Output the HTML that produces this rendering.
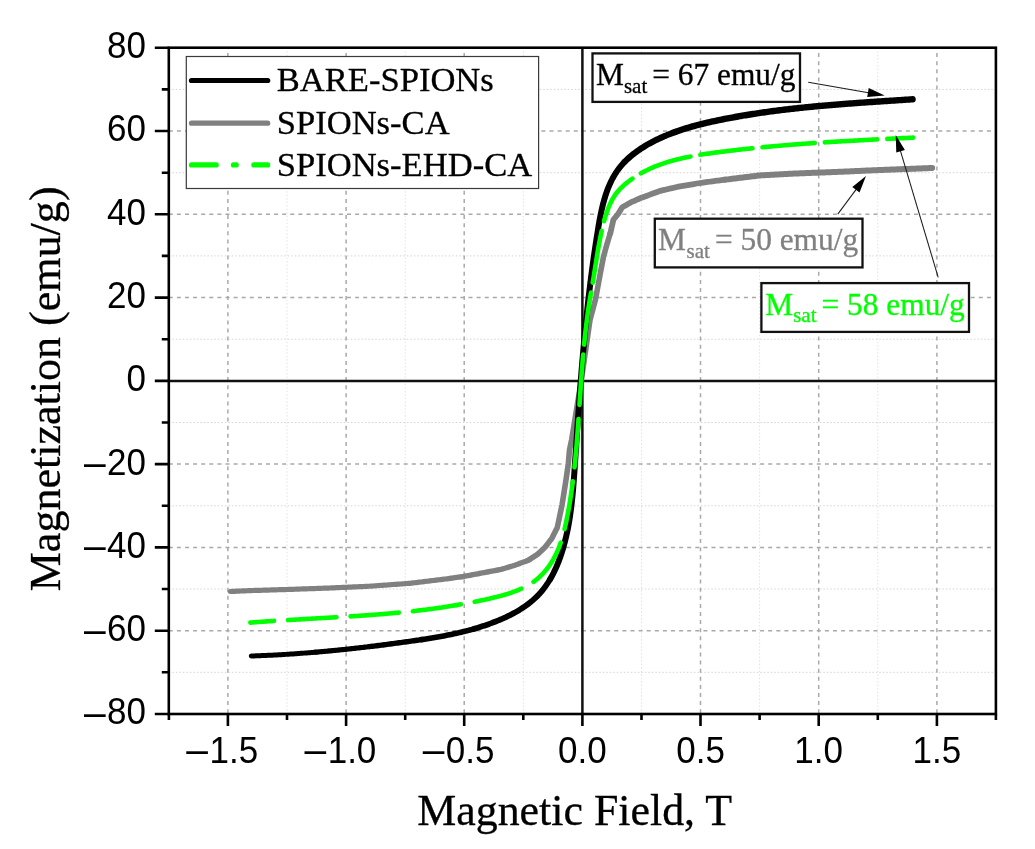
<!DOCTYPE html>
<html><head><meta charset="utf-8"><style>
html,body{margin:0;padding:0;background:#fff;}
svg{display:block;}
.sans{font-family:"Liberation Sans",Arial,sans-serif;}
.serif{font-family:"Liberation Serif","Times New Roman",serif;stroke-width:0.3px;}
</style></head><body>
<svg width="1035" height="849" viewBox="0 0 1035 849">
<rect width="1035" height="849" fill="#fff"/>
<path d="M287.0 47.7V714.0M405.2 47.7V714.0M523.3 47.7V714.0M641.5 47.7V714.0M759.6 47.7V714.0M877.8 47.7V714.0" stroke="#e2e2e2" stroke-width="1" stroke-dasharray="1.5 2" fill="none"/>
<path d="M168.8 672.3H996.0M168.8 589.0H996.0M168.8 505.8H996.0M168.8 422.5H996.0M168.8 339.2H996.0M168.8 255.9H996.0M168.8 172.7H996.0M168.8 89.4H996.0" stroke="#d4d4d4" stroke-width="1" stroke-dasharray="1.5 2" fill="none"/>
<path d="M227.9 47.7V714.0M346.1 47.7V714.0M464.2 47.7V714.0M700.5 47.7V714.0M818.7 47.7V714.0M936.9 47.7V714.0" stroke="#a9a9a9" stroke-width="1.5" stroke-dasharray="4 4.1" stroke-dashoffset="2.7" fill="none"/>
<path d="M168.8 630.7H996.0M168.8 547.4H996.0M168.8 464.1H996.0M168.8 297.6H996.0M168.8 214.3H996.0M168.8 131.0H996.0" stroke="#a9a9a9" stroke-width="1.5" stroke-dasharray="4 4.1" fill="none"/>
<path d="M168.8 380.9H996.0M582.4 47.7V714.0" stroke="#111" stroke-width="2.5" fill="none"/>
<path d="M230.20 591.50 L231.72 591.43 L233.25 591.36 L234.77 591.29 L236.29 591.22 L237.82 591.15 L239.34 591.08 L240.86 591.02 L242.38 590.95 L243.91 590.88 L245.43 590.81 L246.95 590.74 L248.48 590.67 L250.00 590.60 L251.54 590.55 L253.08 590.51 L254.62 590.46 L256.15 590.42 L257.69 590.37 L259.23 590.32 L260.77 590.28 L262.31 590.23 L263.85 590.18 L265.38 590.14 L266.92 590.09 L268.46 590.05 L270.00 590.00 L271.54 589.95 L273.08 589.91 L274.62 589.86 L276.15 589.82 L277.69 589.77 L279.23 589.72 L280.77 589.68 L282.31 589.63 L283.85 589.58 L285.38 589.54 L286.92 589.49 L288.46 589.45 L290.00 589.40 L291.54 589.35 L293.08 589.29 L294.62 589.24 L296.15 589.18 L297.69 589.13 L299.23 589.08 L300.77 589.02 L302.31 588.97 L303.85 588.92 L305.38 588.86 L306.92 588.81 L308.46 588.75 L310.00 588.70 L311.54 588.65 L313.08 588.59 L314.62 588.54 L316.15 588.48 L317.69 588.43 L319.23 588.38 L320.77 588.32 L322.31 588.27 L323.85 588.22 L325.38 588.16 L326.92 588.11 L328.46 588.05 L330.00 588.00 L331.54 587.93 L333.08 587.86 L334.62 587.79 L336.15 587.72 L337.69 587.65 L339.23 587.58 L340.77 587.52 L342.31 587.45 L343.85 587.38 L345.38 587.31 L346.92 587.24 L348.46 587.17 L350.00 587.10 L351.54 587.03 L353.08 586.96 L354.62 586.89 L356.15 586.82 L357.69 586.75 L359.23 586.68 L360.77 586.62 L362.31 586.55 L363.85 586.48 L365.38 586.41 L366.92 586.34 L368.46 586.27 L370.00 586.20 L371.54 586.09 L373.08 585.98 L374.62 585.87 L376.15 585.75 L377.69 585.64 L379.23 585.53 L380.77 585.42 L382.31 585.31 L383.85 585.20 L385.38 585.08 L386.92 584.97 L388.46 584.86 L390.00 584.75 L391.54 584.64 L393.08 584.53 L394.62 584.42 L396.15 584.30 L397.69 584.19 L399.23 584.08 L400.77 583.97 L402.31 583.86 L403.85 583.75 L405.38 583.63 L406.92 583.52 L408.46 583.41 L410.00 583.30 L411.54 583.11 L413.08 582.92 L414.62 582.74 L416.17 582.55 L417.71 582.36 L419.25 582.17 L420.79 581.99 L422.33 581.80 L423.88 581.61 L425.42 581.42 L426.96 581.24 L428.50 581.05 L430.04 580.86 L431.58 580.67 L433.12 580.49 L434.67 580.30 L436.21 580.11 L437.75 579.92 L439.29 579.74 L440.83 579.55 L442.38 579.36 L443.92 579.17 L445.46 578.99 L447.00 578.80 L448.63 578.57 L450.26 578.34" fill="none" stroke="#808080" stroke-width="5.2" stroke-linejoin="round" stroke-linecap="round"/>
<path d="M450.26 578.34 L451.89 578.11 L453.52 577.88 L455.15 577.65 L456.78 577.42 L458.41 577.19 L460.04 576.96 L461.67 576.73 L463.30 576.50 L464.90 576.20 L466.50 575.90 L468.10 575.60 L469.70 575.30 L471.30 575.00 L472.90 574.70 L474.50 574.40 L476.10 574.10 L477.70 573.80 L479.30 573.50 L480.90 573.20 L482.46 572.91 L484.02 572.62 L485.58 572.32 L487.15 572.03 L488.71 571.74 L490.27 571.45 L491.83 571.15 L493.39 570.86 L494.95 570.57 L496.52 570.28 L498.08 569.98 L499.64 569.69 L501.20 569.40 L502.70 568.94 L504.20 568.49 L505.70 568.03 L507.20 567.58 L508.70 567.12 L510.20 566.67 L511.70 566.21 L513.20 565.76 L514.70 565.30 L516.21 564.74 L517.72 564.19 L519.23 563.63 L520.74 563.08 L522.26 562.52 L523.77 561.97 L525.28 561.41 L526.79 560.86 L528.30 560.30 L529.64 559.43" fill="none" stroke="#808080" stroke-width="5.4" stroke-linejoin="round" stroke-linecap="round"/>
<path d="M529.64 559.43 L530.99 558.56 L532.33 557.69 L533.67 556.81 L535.01 555.94 L536.36 555.07 L537.70 554.20 L538.85 553.12 L540.00 552.03 L541.15 550.95 L542.30 549.87 L543.45 548.78 L544.60 547.70 L545.60 546.43 L546.60 545.16 L547.60 543.89 L548.60 542.61 L549.60 541.34 L550.60 540.07 L551.60 538.80 L552.31 537.39 L553.02 535.97 L553.74 534.56 L554.45 533.15 L555.16 531.74 L555.88 530.33 L556.59 528.91 L557.30 527.50 L557.61 526.01 L557.93 524.53 L558.24 523.04 L558.55 521.55 L558.87 520.07 L559.18 518.58 L559.49 517.09 L559.81 515.61 L560.12 514.12 L560.43 512.63 L560.75 511.15 L561.06 509.66 L561.37 508.17 L561.69 506.69 L562.00 505.20 L562.25 503.64 L562.49 502.08 L562.74 500.52 L562.99 498.96 L563.23 497.40 L563.48 495.84 L563.73 494.28 L563.97 492.72 L564.22 491.16 L564.47 489.60 L564.71 488.04 L564.96 486.48 L565.21 484.92 L565.45 483.36 L565.70 481.80 L565.92 480.30 L566.13 478.80 L566.35 477.30 L566.57 475.80 L566.78 474.30 L567.00 472.80 L567.22 471.30 L567.43 469.80 L567.65 468.30 L567.87 466.80 L568.08 465.30 L568.30 463.80 L568.43 462.27 L568.57 460.73 L568.70 459.20 L568.83 457.67 L568.97 456.13 L569.10 454.60 L569.23 453.07 L569.37 451.53 L569.50 450.00 L569.85 448.33 L570.20 446.67 L570.55 445.00 L570.90 443.33 L571.25 441.67 L571.60 440.00 L571.85 438.49 L572.09 436.97 L572.34 435.46 L572.58 433.95 L572.83 432.44 L573.08 430.92 L573.32 429.41 L573.57 427.90 L573.82 426.38 L574.06 424.87 L574.31 423.36 L574.55 421.85 L574.80 420.33 L575.05 418.82 L575.29 417.31 L575.54 415.79 L575.78 414.28 L576.03 412.77 L576.28 411.26 L576.52 409.74 L576.77 408.23 L577.02 406.72 L577.26 405.21 L577.51 403.69 L577.75 402.18 L578.00 400.67 L578.25 399.15 L578.49 397.64 L578.74 396.13 L578.98 394.62 L579.23 393.10 L579.48 391.59 L579.72 390.08 L579.97 388.56 L580.22 387.05 L580.46 385.54 L580.71 384.03 L580.95 382.51 L581.20 381.00 L581.41 379.51 L581.63 378.02 L581.84 376.54 L582.06 375.05 L582.27 373.56 L582.49 372.07 L582.70 370.59 L582.92 369.10 L583.13 367.61 L583.35 366.12 L583.56 364.63 L583.78 363.15 L583.99 361.66 L584.20 360.17 L584.42 358.68 L584.63 357.20 L584.85 355.71 L585.06 354.22 L585.28 352.73 L585.49 351.24 L585.71 349.76 L585.92 348.27 L586.14 346.78 L586.35 345.29 L586.57 343.80 L586.78 342.32 L587.00 340.83 L587.21 339.34 L587.42 337.85 L587.64 336.37 L587.85 334.88 L588.07 333.39 L588.28 331.90 L588.50 330.41 L588.71 328.93 L588.93 327.44 L589.14 325.95 L589.36 324.46 L589.57 322.98 L589.79 321.49 L590.00 320.00 L590.40 318.49 L590.80 316.99 L591.20 315.48 L591.60 313.97 L592.00 312.46 L592.40 310.96 L592.80 309.45 L593.20 307.94 L593.60 306.44 L594.00 304.93 L594.40 303.42 L594.80 301.91 L595.20 300.41 L595.60 298.90 L595.89 297.32 L596.18 295.74 L596.47 294.15 L596.76 292.57 L597.05 290.99 L597.35 289.41 L597.64 287.83 L597.93 286.25 L598.22 284.66 L598.51 283.08 L598.80 281.50 L599.09 279.96 L599.38 278.43 L599.66 276.89 L599.95 275.35 L600.24 273.81 L600.52 272.27 L600.81 270.74 L601.10 269.20 L601.40 267.65 L601.70 266.10 L602.00 264.55 L602.30 263.00 L602.60 261.45 L602.90 259.90 L603.20 258.35 L603.50 256.80 L603.92 255.25 L604.35 253.70 L604.77 252.15 L605.20 250.60 L605.62 249.05 L606.05 247.50 L606.48 245.95 L606.90 244.40 L607.36 242.86 L607.83 241.32 L608.29 239.79 L608.75 238.25 L609.21 236.71 L609.67 235.18 L610.14 233.64" fill="none" stroke="#808080" stroke-width="5.6" stroke-linejoin="round" stroke-linecap="round"/>
<path d="M610.14 233.64 L610.60 232.10 L610.95 230.55 L611.30 229.00 L611.65 227.45 L612.00 225.90 L612.35 224.35 L612.70 222.80 L613.05 221.25 L613.40 219.70 L614.40 218.46 L615.40 217.22 L616.40 215.98 L617.40 214.74 L618.40 213.50 L619.33 211.97 L620.25 210.45 L621.17 208.93 L622.10 207.40 L623.55 206.57 L625.00 205.73 L626.45 204.90 L627.90 204.07 L629.35 203.23 L630.80 202.40 L632.33 201.72 L633.87 201.03 L635.40 200.35 L636.93 199.67 L638.47 198.98 L640.00 198.30 L641.43 197.77 L642.86 197.24 L644.29 196.71 L645.71 196.19 L647.14 195.66 L648.57 195.13 L650.00 194.60 L651.43 194.07 L652.86 193.54 L654.29 193.01 L655.71 192.49 L657.14 191.96 L658.57 191.43 L660.00 190.90 L661.54 190.55 L663.08 190.19 L664.62 189.84 L666.15 189.48 L667.69 189.13 L669.23 188.78 L670.77 188.42 L672.31 188.07 L673.85 187.72 L675.38 187.36 L676.92 187.01 L678.46 186.65 L680.00 186.30 L681.54 186.05 L683.08 185.79 L684.62 185.54 L686.15 185.28 L687.69 185.03 L689.23 184.78 L690.77 184.52 L692.31 184.27 L693.85 184.02 L695.38 183.76 L696.92 183.51 L698.46 183.25 L700.00 183.00 L701.54 182.79 L703.08 182.58 L704.62 182.38 L706.15 182.17 L707.69 181.96 L709.23 181.75 L710.77 181.55 L712.31 181.34 L713.85 181.13 L715.38 180.92 L716.92 180.72 L718.46 180.51 L720.00 180.30 L721.54 180.11 L723.08 179.92 L724.62 179.73" fill="none" stroke="#808080" stroke-width="5.8" stroke-linejoin="round" stroke-linecap="round"/>
<path d="M724.62 179.73 L726.15 179.55 L727.69 179.36 L729.23 179.17 L730.77 178.98 L732.31 178.79 L733.85 178.60 L735.38 178.42 L736.92 178.23 L738.46 178.04 L740.00 177.85 L741.54 177.66 L743.08 177.47 L744.62 177.28 L746.15 177.10 L747.69 176.91 L749.23 176.72 L750.77 176.53 L752.31 176.34 L753.85 176.15 L755.38 175.97 L756.92 175.78 L758.46 175.59 L760.00 175.40 L761.54 175.32 L763.08 175.24 L764.62 175.16 L766.15 175.08 L767.69 175.00 L769.23 174.92 L770.77 174.83 L772.31 174.75 L773.85 174.67 L775.38 174.59 L776.92 174.51 L778.46 174.43 L780.00 174.35 L781.54 174.27 L783.08 174.19 L784.62 174.11 L786.15 174.03 L787.69 173.95 L789.23 173.87 L790.77 173.78 L792.31 173.70 L793.85 173.62 L795.38 173.54 L796.92 173.46 L798.46 173.38 L800.00 173.30 L801.54 173.24 L803.08 173.18 L804.62 173.13 L806.15 173.07 L807.69 173.01 L809.23 172.95 L810.77 172.90 L812.31 172.84 L813.85 172.78 L815.38 172.72 L816.92 172.67 L818.46 172.61 L820.00 172.55 L821.54 172.49 L823.08 172.43 L824.62 172.38 L826.15 172.32 L827.69 172.26 L829.23 172.20 L830.77 172.15 L832.31 172.09 L833.85 172.03 L835.38 171.97 L836.92 171.92 L838.46 171.86 L840.00 171.80 L841.54 171.73 L843.08 171.66 L844.62 171.59 L846.15 171.52 L847.69 171.45 L849.23 171.38 L850.77 171.32 L852.31 171.25 L853.85 171.18 L855.38 171.11 L856.92 171.04 L858.46 170.97 L860.00 170.90 L861.54 170.83 L863.08 170.76 L864.62 170.69 L866.15 170.62 L867.69 170.55 L869.23 170.48 L870.77 170.42 L872.31 170.35 L873.85 170.28 L875.38 170.21 L876.92 170.14 L878.46 170.07 L880.00 170.00 L881.54 169.94 L883.07 169.88 L884.61 169.82 L886.14 169.76 L887.68 169.71 L889.21 169.65 L890.75 169.59 L892.28 169.53 L893.82 169.47 L895.35 169.41 L896.89 169.35 L898.42 169.29 L899.96 169.24 L901.49 169.18 L903.03 169.12 L904.56 169.06 L906.10 169.00 L907.64 168.94 L909.17 168.88 L910.71 168.82 L912.24 168.76 L913.78 168.71 L915.31 168.65 L916.85 168.59 L918.38 168.53 L919.92 168.47 L921.45 168.41 L922.99 168.35 L924.52 168.29 L926.06 168.24 L927.59 168.18 L929.13 168.12 L930.66 168.06 L932.20 168.00" fill="none" stroke="#808080" stroke-width="6.0" stroke-linejoin="round" stroke-linecap="round"/>
<path d="M251.28 656.02 L252.78 655.97 L254.29 655.91 L255.79 655.86 L257.30 655.80 L258.80 655.75 L260.31 655.69 L261.81 655.62 L263.31 655.56 L264.82 655.49 L266.32 655.43 L267.82 655.36 L269.32 655.29 L270.83 655.21 L272.33 655.14 L273.83 655.06 L275.33 654.98 L276.83 654.90 L278.33 654.82 L279.83 654.73 L281.33 654.64 L282.83 654.56 L284.33 654.47 L285.83 654.37 L287.33 654.28 L288.83 654.18 L290.33 654.09 L291.83 653.99 L293.32 653.89 L294.82 653.78 L296.32 653.68 L297.82 653.57 L299.31 653.46 L300.81 653.35 L302.31 653.24 L303.80 653.13 L305.30 653.02 L306.80 652.90 L308.29 652.78 L309.79 652.66 L311.28 652.54 L312.78 652.42 L314.27 652.29 L315.77 652.16" fill="none" stroke="#000" stroke-width="5.0" stroke-linejoin="round" stroke-linecap="round"/>
<path d="M315.77 652.16 L317.26 652.04 L318.76 651.91 L320.25 651.78 L321.75 651.64 L323.24 651.51 L324.73 651.37 L326.23 651.23 L327.72 651.10 L329.21 650.95 L330.70 650.81 L332.20 650.67 L333.69 650.52 L335.18 650.38 L336.67 650.23 L338.17 650.08 L339.66 649.93 L341.15 649.77 L342.64 649.62 L344.13 649.47 L345.62 649.31 L347.11 649.15 L348.60 648.99 L350.09 648.83 L351.58 648.67 L353.07 648.50 L354.56 648.34 L356.05 648.17 L357.54 648.00 L359.03 647.83 L360.52 647.66 L362.01 647.49 L363.50 647.32 L364.98 647.14 L366.47 646.97 L367.96 646.79 L369.45 646.61" fill="none" stroke="#000" stroke-width="5.2" stroke-linejoin="round" stroke-linecap="round"/>
<path d="M369.45 646.61 L370.94 646.43 L372.42 646.25 L373.91 646.07 L375.40 645.88 L376.89 645.70 L378.37 645.51 L379.86 645.33 L381.35 645.14 L382.83 644.95 L384.32 644.76 L385.80 644.56 L387.29 644.37 L388.78 644.18 L390.26 643.98 L391.75 643.78 L393.23 643.59 L394.72 643.39 L396.20 643.19 L397.69 642.99 L399.18 642.79 L400.66 642.58 L402.14 642.38 L403.63 642.17 L405.11 641.97 L406.60 641.76 L408.08 641.55 L409.57 641.34 L411.05 641.13 L412.54 640.92 L414.02 640.71 L415.50 640.49 L416.99 640.28 L418.47 640.06 L419.95 639.84 L421.43 639.62" fill="none" stroke="#000" stroke-width="5.4" stroke-linejoin="round" stroke-linecap="round"/>
<path d="M421.43 639.62 L422.92 639.39 L424.40 639.17 L425.88 638.94 L427.36 638.70 L428.84 638.47 L430.32 638.23 L431.80 637.99 L433.28 637.74 L434.75 637.49 L436.23 637.24 L437.71 636.98 L439.18 636.72 L440.66 636.46 L442.13 636.19 L443.60 635.91 L445.07 635.63 L446.55 635.35 L448.02 635.06 L449.48 634.77 L450.95 634.47 L452.42 634.16 L453.89 633.85 L455.35 633.53 L456.81 633.20 L458.28 632.87 L459.74 632.54 L461.20 632.19 L462.65 631.84 L464.11 631.48 L465.57 631.12 L467.02 630.75 L468.47 630.37 L469.92 629.98 L471.37 629.58 L472.82 629.18 L474.27 628.77" fill="none" stroke="#000" stroke-width="5.6" stroke-linejoin="round" stroke-linecap="round"/>
<path d="M474.27 628.77 L475.71 628.35 L477.16 627.92 L478.60 627.48 L480.04 627.03 L481.47 626.58 L482.91 626.11 L484.34 625.64 L485.78 625.15 L487.21 624.66 L488.64 624.16 L490.06 623.64 L491.49 623.12 L492.91 622.58 L494.33 622.04 L495.75 621.48 L497.16 620.92 L498.57 620.34 L499.98 619.75 L501.39 619.15 L502.79 618.53 L504.18 617.91 L505.57 617.27 L506.96 616.62 L508.33 615.96 L509.70 615.28 L511.06 614.59 L512.41 613.89 L513.75 613.17 L515.09 612.44 L516.41 611.70 L517.72 610.94 L519.02 610.16 L520.31 609.37 L521.58 608.57 L522.84 607.75 L524.09 606.91 L525.32 606.06 L526.54 605.20 L527.74 604.31 L528.92 603.41 L530.09 602.49 L531.24 601.56 L532.38 600.61 L533.49 599.64 L534.59 598.65 L535.66 597.65 L536.72 596.63 L537.75 595.59 L538.77 594.53 L539.76 593.45 L540.73 592.35 L541.68 591.24 L542.61 590.11 L543.52 588.96 L544.41 587.80 L545.28 586.62 L546.13 585.43 L546.96 584.22 L547.78 583.00 L548.57 581.76 L549.35 580.51 L550.11 579.25" fill="none" stroke="#000" stroke-width="5.8" stroke-linejoin="round" stroke-linecap="round"/>
<path d="M550.11 579.25 L550.85 577.97 L551.57 576.68 L552.28 575.38 L552.97 574.07 L553.65 572.75 L554.30 571.42 L554.95 570.07 L555.57 568.72 L556.18 567.36 L556.78 565.99 L557.36 564.61 L557.93 563.22 L558.48 561.83 L559.02 560.43 L559.54 559.02 L560.05 557.61 L560.55 556.19 L561.04 554.76 L561.51 553.33 L561.97 551.90 L562.42 550.46 L562.85 549.02 L563.28 547.57 L563.69 546.12 L564.09 544.67 L564.49 543.22 L564.87 541.76 L565.24 540.30 L565.60 538.84 L565.95 537.38 L566.29 535.91 L566.62 534.45 L566.94 532.98 L567.25 531.50 L567.56 530.03 L567.85 528.55 L568.14 527.07 L568.41 525.59 L568.68 524.11 L568.94 522.62 L569.20 521.14 L569.44 519.65 L569.68 518.16 L569.91 516.67 L570.13 515.18 L570.35 513.68 L570.56 512.19 L570.76 510.69 L570.96 509.19 L571.15 507.69 L571.34 506.19 L571.52 504.69 L571.69 503.19 L571.86 501.69 L572.02 500.18 L572.18 498.68 L572.34 497.17 L572.49 495.66 L572.63 494.15 L572.77 492.65 L572.91 491.14 L573.04 489.63 L573.17 488.12 L573.30 486.61 L573.42 485.10 L573.54 483.59 L573.66 482.08 L573.78 480.56 L573.89 479.05 L574.00 477.54 L574.11 476.03 L574.22 474.52 L574.33 473.01 L574.43 471.50 L574.53 469.99 L574.64 468.48 L574.74 466.97 L574.84 465.46 L574.94 463.95 L575.04 462.44 L575.14 460.93 L575.24 459.43 L575.34 457.92 L575.45 456.41 L575.55 454.91 L575.65 453.40 L575.75 451.90 L575.85 450.40 L575.95 448.89 L576.05 447.39 L576.15 445.89 L576.25 444.39 L576.35 442.88 L576.45 441.38 L576.55 439.88 L576.65 438.38 L576.76 436.88 L576.86 435.39 L576.96 433.89 L577.06 432.39 L577.16 430.89 L577.26 429.39 L577.37 427.90 L577.47 426.40 L577.57 424.90 L577.67 423.41 L577.78 421.91 L577.88 420.42 L577.99 418.92 L578.09 417.43 L578.19 415.94 L578.30 414.44 L578.40 412.95 L578.51 411.46 L578.61 409.97 L578.72 408.47 L578.83 406.98 L578.93 405.49 L579.04 404.00 L579.15 402.51 L579.26 401.02 L579.36 399.53 L579.47 398.04 L579.58 396.55 L579.69 395.06 L579.80 393.57 L579.91 392.08 L580.03 390.59 L580.14 389.10 L580.25 387.62 L580.36 386.13 L580.48 384.64 L580.59 383.15 L580.71 381.66 L580.82 380.18 L580.94 378.69 L581.06 377.20 L581.17 375.72 L581.29 374.23 L581.41 372.74 L581.53 371.26 L581.65 369.77 L581.77 368.28 L581.89 366.80 L582.01 365.31 L582.14 363.83 L582.26 362.34 L582.39 360.86 L582.51 359.37 L582.64 357.89 L582.77 356.40 L582.89 354.91 L583.02 353.43 L583.15 351.94 L583.28 350.46 L583.41 348.97 L583.55 347.49 L583.68 346.00 L583.81 344.52 L583.95 343.03 L584.09 341.55 L584.22 340.06 L584.36 338.58 L584.50 337.09 L584.64 335.61 L584.78 334.12 L584.92 332.64 L585.07 331.15 L585.21 329.67 L585.36 328.18 L585.50 326.70 L585.65 325.21 L585.80 323.72 L585.95 322.24 L586.10 320.75 L586.25 319.27 L586.41 317.78 L586.56 316.29 L586.72 314.81 L586.87 313.32 L587.03 311.83 L587.19 310.35 L587.35 308.86 L587.51 307.37 L587.68 305.89 L587.84 304.40 L588.01 302.91 L588.17 301.42 L588.34 299.93 L588.51 298.45 L588.68 296.96 L588.85 295.47 L589.03 293.98 L589.20 292.49 L589.38 291.00 L589.56 289.51 L589.74 288.02 L589.92 286.53 L590.10 285.04 L590.28 283.55 L590.47 282.06 L590.65 280.56 L590.84 279.07 L591.03 277.58 L591.22 276.09 L591.42 274.59 L591.61 273.10 L591.81 271.61 L592.00 270.11 L592.20 268.62 L592.40 267.12 L592.61 265.63 L592.81 264.13 L593.02 262.64 L593.22 261.14 L593.43 259.64 L593.64 258.15 L593.85 256.65 L594.07 255.15 L594.28 253.65 L594.50 252.15 L594.72 250.66 L594.94 249.16 L595.16 247.66 L595.39 246.15 L595.62 244.65 L595.84 243.15 L596.07 241.65 L596.31 240.15 L596.54 238.64 L596.77 237.14 L597.01 235.64 L597.25 234.13 L597.49 232.63 L597.74 231.12 L597.98 229.61 L598.23 228.11 L598.48 226.60 L598.74 225.10 L598.99 223.59 L599.26 222.09 L599.53 220.59 L599.80 219.09 L600.09 217.59 L600.37 216.10 L600.67 214.61 L600.97 213.12 L601.29 211.64 L601.61 210.16 L601.94 208.69 L602.28 207.22 L602.63 205.76 L602.99 204.31 L603.37 202.85 L603.76 201.41 L604.15 199.97 L604.57 198.55 L604.99 197.12 L605.43 195.71 L605.89 194.31 L606.36 192.91 L606.85 191.52 L607.35 190.14 L607.87 188.78 L608.40 187.42 L608.96 186.07 L609.53 184.74 L610.12 183.41 L610.74 182.10 L611.37 180.80 L612.02 179.51 L612.69 178.24 L613.39 176.98 L614.11 175.73 L614.85 174.49 L615.61 173.27 L616.40 172.07 L617.21 170.88 L618.04 169.70 L618.90 168.54 L619.79 167.40 L620.70 166.27 L621.64 165.16 L622.61 164.07 L623.59 162.99 L624.60 161.93" fill="none" stroke="#000" stroke-width="6.0" stroke-linejoin="round" stroke-linecap="round"/>
<path d="M624.60 161.93 L625.64 160.89 L626.70 159.86 L627.77 158.84 L628.87 157.85 L629.99 156.86 L631.13 155.90 L632.29 154.95 L633.46 154.01 L634.65 153.09 L635.86 152.18 L637.09 151.29 L638.33 150.42 L639.58 149.55 L640.85 148.71 L642.13 147.88 L643.43 147.06 L644.73 146.25 L646.05 145.46 L647.38 144.69 L648.71 143.93 L650.06 143.18 L651.41 142.45 L652.78 141.73 L654.15 141.02 L655.52 140.33 L656.90 139.65 L658.29 138.98 L659.68 138.33 L661.07 137.69 L662.47 137.06 L663.87 136.45 L665.27 135.85 L666.68 135.26 L668.09 134.68 L669.50 134.11 L670.92 133.56 L672.33 133.01 L673.76 132.48 L675.18 131.96" fill="none" stroke="#000" stroke-width="6.2" stroke-linejoin="round" stroke-linecap="round"/>
<path d="M675.18 131.96 L676.61 131.44 L678.04 130.94 L679.47 130.45 L680.90 129.97 L682.34 129.50 L683.78 129.03 L685.22 128.58 L686.67 128.14 L688.11 127.70 L689.56 127.27 L691.01 126.85 L692.46 126.44 L693.92 126.04 L695.37 125.64 L696.83 125.25 L698.29 124.87 L699.75 124.50 L701.21 124.13 L702.67 123.77 L704.14 123.41 L705.60 123.06 L707.07 122.72 L708.54 122.38 L710.00 122.05 L711.47 121.72 L712.94 121.40 L714.41 121.08 L715.89 120.77 L717.36 120.46 L718.83 120.15 L720.30 119.85 L721.78 119.55 L723.25 119.25 L724.72 118.96 L726.20 118.67 L727.67 118.39 L729.15 118.11 L730.62 117.83 L732.10 117.55 L733.57 117.28 L735.05 117.01 L736.52 116.75 L738.00 116.48 L739.48 116.22 L740.96 115.97 L742.43 115.71 L743.91 115.46 L745.39 115.22 L746.87 114.97 L748.35 114.73 L749.83 114.49 L751.30 114.26 L752.78 114.02 L754.26 113.79 L755.74 113.56 L757.23 113.34 L758.71 113.12 L760.19 112.90 L761.67 112.68 L763.15 112.47 L764.63 112.26 L766.12 112.05 L767.60 111.84 L769.08 111.64 L770.56 111.44 L772.05 111.24 L773.53 111.04 L775.02 110.85 L776.50 110.66 L777.98 110.47 L779.47 110.28 L780.95 110.10 L782.44 109.91 L783.93 109.73 L785.41 109.55 L786.90 109.38 L788.38 109.21 L789.87 109.03 L791.36 108.86 L792.85 108.70 L794.33 108.53 L795.82 108.37 L797.31 108.21 L798.80 108.05 L800.29 107.89 L801.77 107.73 L803.26 107.58 L804.75 107.43 L806.24 107.28 L807.73 107.13 L809.22 106.98 L810.71 106.83 L812.20 106.69 L813.69 106.55 L815.19 106.41 L816.68 106.27 L818.17 106.13 L819.66 106.00 L821.15 105.86 L822.64 105.73 L824.14 105.60 L825.63 105.47 L827.12 105.34 L828.62 105.21 L830.11 105.08 L831.60 104.96 L833.10 104.84 L834.59 104.71 L836.08 104.59 L837.58 104.47 L839.07 104.35 L840.57 104.24 L842.06 104.12 L843.56 104.00 L845.06 103.89 L846.55 103.77 L848.05 103.66 L849.54 103.55 L851.04 103.44 L852.54 103.33 L854.03 103.22 L855.53 103.11 L857.03 103.00 L858.52 102.89 L860.02 102.79 L861.52 102.68 L863.02 102.58 L864.52 102.47 L866.01 102.37 L867.51 102.27 L869.01 102.16 L870.51 102.06 L872.01 101.96 L873.51 101.86 L875.01 101.76 L876.51 101.66 L878.01 101.56 L879.51 101.46 L881.01 101.36 L882.51 101.26 L884.01 101.16 L885.51 101.06 L887.01 100.96 L888.51 100.86 L890.01 100.76 L891.51 100.67 L893.02 100.57 L894.52 100.47 L896.02 100.37 L897.52 100.27 L899.02 100.17 L900.53 100.08 L902.03 99.98 L903.53 99.88 L905.03 99.78 L906.54 99.68 L908.04 99.58 L909.54 99.48 L911.05 99.38 L912.55 99.28" fill="none" stroke="#000" stroke-width="6.4" stroke-linejoin="round" stroke-linecap="round"/>
<path d="M250.35 622.63 L251.86 622.51 L253.36 622.39 L254.87 622.28 L256.37 622.16 L257.88 622.05 L259.39 621.94 L260.89 621.83 L262.40 621.72 L263.90 621.62 L265.40 621.51 L266.91 621.41 L268.41 621.30 L269.92 621.20 L271.42 621.10 L272.92 621.00 L274.43 620.90 L275.93 620.80 L277.43 620.71 L278.94 620.61 L280.44 620.51 L281.94 620.42 L283.45 620.33 L284.95 620.23 L286.45 620.14 L287.95 620.05 L289.45 619.96 L290.96 619.87 L292.46 619.78 L293.96 619.69 L295.46 619.60 L296.96 619.52 L298.46 619.43 L299.96 619.34 L301.46 619.25 L302.96 619.17 L304.46 619.08 L305.96 619.00 L307.46 618.91 L308.96 618.82 L310.46 618.74 L311.96 618.65 L313.46 618.57 L314.96 618.48 L316.46 618.40 L317.96 618.31 L319.46 618.23 L320.96 618.14 L322.46 618.06 L323.95 617.97 L325.45 617.89 L326.95 617.80 L328.45 617.71 L329.95 617.63 L331.44 617.54 L332.94 617.45 L334.44 617.36 L335.93 617.28 L337.43 617.19 L338.93 617.10 L340.42 617.01 L341.92 616.92 L343.42 616.82 L344.91 616.73 L346.41 616.64 L347.90 616.54 L349.40 616.45 L350.90 616.35 L352.39 616.26 L353.89 616.16 L355.38 616.06 L356.88 615.96 L358.37 615.86 L359.87 615.76 L361.36 615.66 L362.85 615.56 L364.35 615.45 L365.84 615.35 L367.34 615.24 L368.83 615.13 L370.32 615.02 L371.82 614.91 L373.31 614.80 L374.80 614.68 L376.30 614.57 L377.79 614.45 L379.28 614.33 L380.77 614.21 L382.27 614.09 L383.76 613.97 L385.25 613.84 L386.74 613.71 L388.23 613.58 L389.73 613.45 L391.22 613.32 L392.71 613.19 L394.20 613.05 L395.69 612.91 L397.18 612.77 L398.67 612.63 L400.16 612.49 L401.65 612.34 L403.14 612.19 L404.63 612.04 L406.12 611.89 L407.61 611.73 L409.10 611.58 L410.59 611.42 L412.08 611.25 L413.57 611.09 L415.06 610.92 L416.55 610.75 L418.04 610.58 L419.53 610.41 L421.02 610.23 L422.51 610.05 L423.99 609.87 L425.48 609.68 L426.97 609.49 L428.46 609.30 L429.95 609.11 L431.43 608.91 L432.92 608.71 L434.41 608.51 L435.89 608.31 L437.38 608.10 L438.87 607.89 L440.36 607.67 L441.84 607.46 L443.33 607.24 L444.81 607.01 L446.30 606.79 L447.79 606.56 L449.27 606.32 L450.76 606.09 L452.24 605.85 L453.73 605.60 L455.22 605.36 L456.70 605.11 L458.19 604.85 L459.67 604.60 L461.16 604.33 L462.64 604.07 L464.12 603.80 L465.61 603.53 L467.09 603.26 L468.58 602.98 L470.06 602.69 L471.54 602.41 L473.03 602.11 L474.51 601.82 L476.00 601.52 L477.48 601.22 L478.96 600.91 L480.44 600.60 L481.93 600.29 L483.41 599.97 L484.89 599.64 L486.38 599.32 L487.86 598.99 L489.34 598.65 L490.82 598.31 L492.30 597.96 L493.78 597.61 L495.26 597.26 L496.74 596.89 L498.21 596.52 L499.68 596.14 L501.15 595.75 L502.61 595.35 L504.07 594.94 L505.52 594.52 L506.97 594.08 L508.41 593.63 L509.84 593.17 L511.26 592.70 L512.68 592.20 L514.08 591.70 L515.48 591.17 L516.87 590.63 L518.24 590.07 L519.61 589.49 L520.96 588.89 L522.30 588.27 L523.63 587.63 L524.95 586.96 L526.25 586.28 L527.53 585.57 L528.80 584.83 L530.06 584.07 L531.30 583.29 L532.52 582.47 L533.72 581.63 L534.91 580.77 L536.08 579.87 L537.23 578.94 L538.36 577.98 L539.47 577.00 L540.56 575.98 L541.62 574.92 L542.67 573.84 L543.69 572.73 L544.69 571.59 L545.67 570.42 L546.63 569.23 L547.56 568.02 L548.47 566.78 L549.36 565.53 L550.22 564.26 L551.06 562.97 L551.87 561.67 L552.66 560.36 L553.43 559.03 L554.16 557.70 L554.88 556.36 L555.56 555.01 L556.23 553.66 L556.86 552.30 L557.48 550.93 L558.07 549.56 L558.64 548.18 L559.19 546.80 L559.72 545.41 L560.23 544.01 L560.73 542.61 L561.20 541.21 L561.66 539.80 L562.10 538.38 L562.53 536.96 L562.94 535.53 L563.33 534.09 L563.71 532.65 L564.07 531.20 L564.42 529.75 L564.76 528.30 L565.09 526.84 L565.41 525.38 L565.73 523.92 L566.04 522.45 L566.35 520.99 L566.65 519.52 L566.94 518.06 L567.23 516.59 L567.52 515.12 L567.80 513.65 L568.08 512.18 L568.35 510.71 L568.61 509.24 L568.87 507.76 L569.13 506.29 L569.39 504.81 L569.63 503.34 L569.88 501.86 L570.12 500.38 L570.35 498.90 L570.59 497.43 L570.81 495.95 L571.04 494.46 L571.26 492.98 L571.47 491.50 L571.68 490.02 L571.89 488.53 L572.10 487.05 L572.30 485.56 L572.49 484.08 L572.69 482.59 L572.88 481.10 L573.06 479.62 L573.25 478.13 L573.43 476.64 L573.61 475.15 L573.78 473.66 L573.95 472.17 L574.12 470.68 L574.28 469.18 L574.44 467.69 L574.60 466.20 L574.76 464.71 L574.91 463.21 L575.07 461.72 L575.21 460.22 L575.36 458.73 L575.50 457.23 L575.65 455.73 L575.78 454.24 L575.92 452.74 L576.06 451.24 L576.19 449.75 L576.32 448.25 L576.45 446.75 L576.58 445.25 L576.70 443.75 L576.82 442.25 L576.95 440.75 L577.07 439.25 L577.18 437.75 L577.30 436.25 L577.42 434.75 L577.53 433.25 L577.64 431.75 L577.75 430.25 L577.86 428.74 L577.97 427.24 L578.08 425.74 L578.19 424.24 L578.29 422.74 L578.40 421.23 L578.50 419.73 L578.61 418.23 L578.71 416.73 L578.81 415.22 L578.91 413.72 L579.01 412.22 L579.12 410.72 L579.22 409.21 L579.32 407.71 L579.42 406.21 L579.52 404.71 L579.62 403.20 L579.72 401.70 L579.82 400.20 L579.92 398.70 L580.02 397.20 L580.12 395.69 L580.22 394.19 L580.32 392.69 L580.42 391.19 L580.52 389.69 L580.62 388.19 L580.72 386.69 L580.83 385.18 L580.93 383.68 L581.04 382.18 L581.14 380.68" fill="none" stroke="#00ff00" stroke-width="4.6" stroke-linejoin="round" stroke-linecap="round" stroke-dasharray="48.46 14.1" stroke-dashoffset="24.71"/>
<path d="M581.14 380.68 L581.25 379.18 L581.36 377.69 L581.47 376.19 L581.58 374.69 L581.69 373.19 L581.80 371.69 L581.91 370.19 L582.03 368.70 L582.15 367.20 L582.26 365.70 L582.38 364.20 L582.50 362.71 L582.63 361.21 L582.75 359.72 L582.88 358.22 L583.00 356.73 L583.13 355.23 L583.26 353.74 L583.40 352.24 L583.53 350.75 L583.67 349.26 L583.81 347.76 L583.95 346.27 L584.10 344.78 L584.24 343.29 L584.39 341.80 L584.54 340.31 L584.69 338.81 L584.85 337.32 L585.01 335.83 L585.17 334.34 L585.33 332.86 L585.50 331.37 L585.67 329.88 L585.84 328.39 L586.01 326.90 L586.19 325.42 L586.37 323.93 L586.56 322.44 L586.74 320.96 L586.93 319.47 L587.13 317.99 L587.32 316.50 L587.52 315.02 L587.73 313.53 L587.93 312.05 L588.14 310.57 L588.36 309.09 L588.58 307.60 L588.80 306.12 L589.02 304.64 L589.25 303.16 L589.48 301.68 L589.72 300.20 L589.96 298.72 L590.20 297.24 L590.45 295.77 L590.70 294.29 L590.95 292.81 L591.21 291.33 L591.46 289.86 L591.72 288.38 L591.97 286.90 L592.23 285.43 L592.48 283.95 L592.73 282.47 L592.98 281.00 L593.23 279.52 L593.47 278.04 L593.71 276.56 L593.95 275.09 L594.19 273.61 L594.42 272.13 L594.66 270.65 L594.89 269.18 L595.13 267.70 L595.36 266.22 L595.60 264.74 L595.83 263.26 L596.06 261.79 L596.30 260.31 L596.54 258.83 L596.78 257.35 L597.02 255.88 L597.26 254.40 L597.51 252.92 L597.76 251.44 L598.01 249.97 L598.26 248.49 L598.52 247.01 L598.79 245.54 L599.05 244.06 L599.33 242.58 L599.60 241.11 L599.88 239.63 L600.17 238.15 L600.47 236.68 L600.77 235.20 L601.07 233.73 L601.39 232.25 L601.71 230.78 L602.03 229.31 L602.37 227.83 L602.72 226.36 L603.07 224.90 L603.44 223.43 L603.82 221.97 L604.21 220.51 L604.62 219.06 L605.04 217.61 L605.48 216.16 L605.94 214.73 L606.41 213.29 L606.90 211.87 L607.41 210.45 L607.94 209.04 L608.49 207.64 L609.06 206.25 L609.65 204.87 L610.28 203.49 L610.92 202.14 L611.60 200.80 L612.31 199.48 L613.05 198.18 L613.83 196.90 L614.64 195.65 L615.50 194.42 L616.39 193.22 L617.32 192.05 L618.29 190.90 L619.29 189.78 L620.32 188.69 L621.39 187.62 L622.47 186.58 L623.58 185.56 L624.72 184.56 L625.87 183.58 L627.04 182.63 L628.23 181.70 L629.43 180.79 L630.64 179.90 L631.87 179.03 L633.10 178.18 L634.34 177.34 L635.59 176.53 L636.85 175.74 L638.12 174.96 L639.39 174.21 L640.68 173.47 L641.98 172.74 L643.28 172.04 L644.59 171.35 L645.91 170.68 L647.24 170.03 L648.57 169.39 L649.91 168.77 L651.26 168.16 L652.62 167.57 L653.99 166.99 L655.36 166.43 L656.73 165.88 L658.12 165.35 L659.51 164.83 L660.91 164.33 L662.31 163.83 L663.72 163.35 L665.13 162.89 L666.55 162.43 L667.98 161.99 L669.41 161.56 L670.84 161.14 L672.28 160.74 L673.73 160.34 L675.18 159.96 L676.63 159.58 L678.09 159.22 L679.55 158.86 L681.02 158.52 L682.49 158.18 L683.96 157.86 L685.44 157.54 L686.92 157.23 L688.40 156.93 L689.88 156.64 L691.37 156.35 L692.86 156.07 L694.36 155.80 L695.85 155.54 L697.35 155.28 L698.85 155.03 L700.35 154.78 L701.85 154.54 L703.36 154.31 L704.86 154.08 L706.37 153.85 L707.87 153.64 L709.38 153.42 L710.89 153.21 L712.40 153.00 L713.91 152.80 L715.42 152.59 L716.92 152.39 L718.43 152.20 L719.94 152.00 L721.45 151.81 L722.95 151.62 L724.46 151.43 L725.96 151.25 L727.47 151.06 L728.97 150.88 L730.47 150.70 L731.98 150.52 L733.48 150.35 L734.98 150.17 L736.48 150.00 L737.98 149.83 L739.48 149.66 L740.98 149.49 L742.48 149.32 L743.98 149.16 L745.48 148.99 L746.97 148.83 L748.47 148.67 L749.97 148.51 L751.46 148.36 L752.96 148.20 L754.45 148.05 L755.95 147.90 L757.44 147.75 L758.94 147.60 L760.43 147.45 L761.92 147.31 L763.42 147.16 L764.91 147.02 L766.40 146.88 L767.89 146.74 L769.38 146.60 L770.88 146.47 L772.37 146.33 L773.86 146.20 L775.35 146.06 L776.84 145.93 L778.33 145.80 L779.82 145.67 L781.31 145.55 L782.80 145.42 L784.29 145.30 L785.78 145.17 L787.27 145.05 L788.76 144.93 L790.25 144.81 L791.74 144.69 L793.22 144.58 L794.71 144.46 L796.20 144.34 L797.69 144.23 L799.18 144.12 L800.67 144.01 L802.16 143.90 L803.64 143.79 L805.13 143.68 L806.62 143.57 L808.11 143.46 L809.60 143.36 L811.09 143.26 L812.58 143.15 L814.07 143.05 L815.55 142.95 L817.04 142.85 L818.53 142.75 L820.02 142.65 L821.51 142.55 L823.00 142.46 L824.49 142.36 L825.98 142.26 L827.47 142.17 L828.96 142.08 L830.45 141.98 L831.94 141.89 L833.43 141.80 L834.93 141.71 L836.42 141.62 L837.91 141.53 L839.40 141.44 L840.89 141.36 L842.39 141.27 L843.88 141.18 L845.37 141.10 L846.87 141.01 L848.36 140.93 L849.86 140.84 L851.35 140.76 L852.85 140.68 L854.34 140.59 L855.84 140.51 L857.33 140.43 L858.83 140.35 L860.33 140.27 L861.83 140.19 L863.33 140.11 L864.82 140.03 L866.32 139.95 L867.82 139.88 L869.32 139.80 L870.83 139.72 L872.33 139.64 L873.83 139.57 L875.33 139.49 L876.84 139.42 L878.34 139.34 L879.84 139.26 L881.35 139.19 L882.86 139.11 L884.36 139.04 L885.87 138.97 L887.38 138.89 L888.89 138.82 L890.39 138.74 L891.90 138.67 L893.42 138.59 L894.93 138.52 L896.44 138.45 L897.95 138.37 L899.47 138.30 L900.98 138.23 L902.50 138.15 L904.01 138.08 L905.53 138.01 L907.05 137.93 L908.57 137.86 L910.09 137.79 L911.61 137.71 L913.13 137.64" fill="none" stroke="#00ff00" stroke-width="4.6" stroke-linejoin="round" stroke-linecap="round" stroke-dasharray="52.46 10.1" stroke-dashoffset="26.34"/>
<rect x="168.8" y="47.7" width="827.1" height="666.3" fill="none" stroke="#000" stroke-width="2.6"/>
<path d="M154.8 714.0H168.8M154.8 630.7H168.8M154.8 547.4H168.8M154.8 464.1H168.8M154.8 380.9H168.8M154.8 297.6H168.8M154.8 214.3H168.8M154.8 131.0H168.8M154.8 47.7H168.8M161.8 672.3H168.8M161.8 589.0H168.8M161.8 505.8H168.8M161.8 422.5H168.8M161.8 339.2H168.8M161.8 255.9H168.8M161.8 172.7H168.8M161.8 89.4H168.8M227.9 714.0V726.0M346.1 714.0V726.0M464.2 714.0V726.0M582.4 714.0V726.0M700.5 714.0V726.0M818.7 714.0V726.0M936.9 714.0V726.0M168.9 714.0V720.0M287.0 714.0V720.0M405.2 714.0V720.0M523.3 714.0V720.0M641.5 714.0V720.0M759.6 714.0V720.0M877.8 714.0V720.0M995.9 714.0V720.0" stroke="#000" stroke-width="2.6" fill="none"/>
<text class="sans" transform="translate(0 58.13) scale(1 1.05)" font-size="35" x="107.07">80</text>
<text class="sans" transform="translate(0 141.41) scale(1 1.05)" font-size="35" x="107.07">60</text>
<text class="sans" transform="translate(0 224.69) scale(1 1.05)" font-size="35" x="107.07">40</text>
<text class="sans" transform="translate(0 307.97) scale(1 1.05)" font-size="35" x="107.07">20</text>
<text class="sans" transform="translate(0 391.25) scale(1 1.05)" font-size="35" x="126.53">0</text>
<text class="sans" transform="translate(0 474.53) scale(1 1.05)" font-size="35"><tspan x="83.88" y="1.52" font-size="39">–</tspan><tspan x="107.07" y="0">20</tspan></text>
<text class="sans" transform="translate(0 557.81) scale(1 1.05)" font-size="35"><tspan x="83.88" y="1.52" font-size="39">–</tspan><tspan x="107.07" y="0">40</tspan></text>
<text class="sans" transform="translate(0 641.09) scale(1 1.05)" font-size="35"><tspan x="83.88" y="1.52" font-size="39">–</tspan><tspan x="107.07" y="0">60</tspan></text>
<text class="sans" transform="translate(0 724.37) scale(1 1.05)" font-size="35"><tspan x="83.88" y="1.52" font-size="39">–</tspan><tspan x="107.07" y="0">80</tspan></text>
<text class="sans" transform="translate(0 762.70) scale(1 1.05)" font-size="35"><tspan x="186.36" y="0.48" font-size="39">–</tspan><tspan x="209.55" y="0">1.5</tspan></text>
<text class="sans" transform="translate(0 762.70) scale(1 1.05)" font-size="35"><tspan x="304.51" y="0.48" font-size="39">–</tspan><tspan x="327.70" y="0">1.0</tspan></text>
<text class="sans" transform="translate(0 762.70) scale(1 1.05)" font-size="35"><tspan x="422.66" y="0.48" font-size="39">–</tspan><tspan x="445.85" y="0">0.5</tspan></text>
<text class="sans" transform="translate(0 762.70) scale(1 1.05)" font-size="35" x="582.40" text-anchor="middle">0.0</text>
<text class="sans" transform="translate(0 762.70) scale(1 1.05)" font-size="35" x="700.55" text-anchor="middle">0.5</text>
<text class="sans" transform="translate(0 762.70) scale(1 1.05)" font-size="35" x="818.70" text-anchor="middle">1.0</text>
<text class="sans" transform="translate(0 762.70) scale(1 1.05)" font-size="35" x="936.85" text-anchor="middle">1.5</text>
<text class="serif" stroke="#000" transform="translate(417.2 825.4) scale(1 1.025)" font-size="43.9">Magnetic Field, T</text>
<text class="serif" stroke="#000" transform="translate(60 591.3) rotate(-90)" font-size="44.05">Magnetization (emu/g)</text>
<rect x="186.3" y="56.5" width="352.3" height="132" fill="#fff" stroke="#3a3a3a" stroke-width="1.2"/>
<path d="M191.5 80.5H267.7" stroke="#000" stroke-width="5.2" stroke-linecap="round"/>
<path d="M191.5 123.2H267.7" stroke="#808080" stroke-width="5.2" stroke-linecap="round"/>
<path d="M191.5 164.9H267.7" stroke="#00ff00" stroke-width="5.2" stroke-linecap="round" stroke-dasharray="24.7 17.3 2.7 17.7"/>
<text class="serif" stroke="#000" x="276.7" y="91.3" font-size="34.6">BARE-SPIONs</text>
<text class="serif" stroke="#000" x="276.7" y="134.3" font-size="34.6">SPIONs-CA</text>
<text class="serif" stroke="#000" x="276.7" y="176" font-size="34.6">SPIONs-EHD-CA</text>
<rect x="592.5" y="53.4" width="207.5" height="48.5" fill="#fff" stroke="#111" stroke-width="2.3"/>
<text class="serif" font-size="31.4" fill="#000" stroke="#000"><tspan x="596.0" y="85.3">M</tspan><tspan x="623.9" y="92.8" font-size="21">sat</tspan><tspan x="652.2" y="85.3">= 67 emu/g</tspan></text>
<rect x="654.8" y="218.7" width="207.7" height="48.7" fill="#fff" stroke="#111" stroke-width="2.3"/>
<text class="serif" font-size="31.4" fill="#808080" stroke="#808080"><tspan x="657.9" y="250.3">M</tspan><tspan x="686.6" y="258.4" font-size="21">sat</tspan><tspan x="714.9" y="250.3">= 50 emu/g</tspan></text>
<rect x="761.4" y="283.1" width="207.6" height="48.8" fill="#fff" stroke="#111" stroke-width="2.3"/>
<text class="serif" font-size="31.4" fill="#00ff00" stroke="#00ff00"><tspan x="765.2" y="314.7">M</tspan><tspan x="793.2" y="322.2" font-size="21">sat</tspan><tspan x="821.5" y="314.7">= 58 emu/g</tspan></text>
<path d="M808.3 82.3L869.9 92.9" stroke="#1a1a1a" stroke-width="1.05" fill="none"/>
<path d="M884.7 95.4L867.2 97.0L868.7 88.1Z" fill="#000"/>
<path d="M837.8 214.1L857.1 188.1" stroke="#1a1a1a" stroke-width="1.05" fill="none"/>
<path d="M866.0 176.1L859.5 192.4L852.3 187.1Z" fill="#000"/>
<path d="M938.2 277.3L900.0 149.4" stroke="#1a1a1a" stroke-width="1.05" fill="none"/>
<path d="M895.7 135.0L904.9 150.0L896.3 152.6Z" fill="#000"/>
</svg></body></html>
